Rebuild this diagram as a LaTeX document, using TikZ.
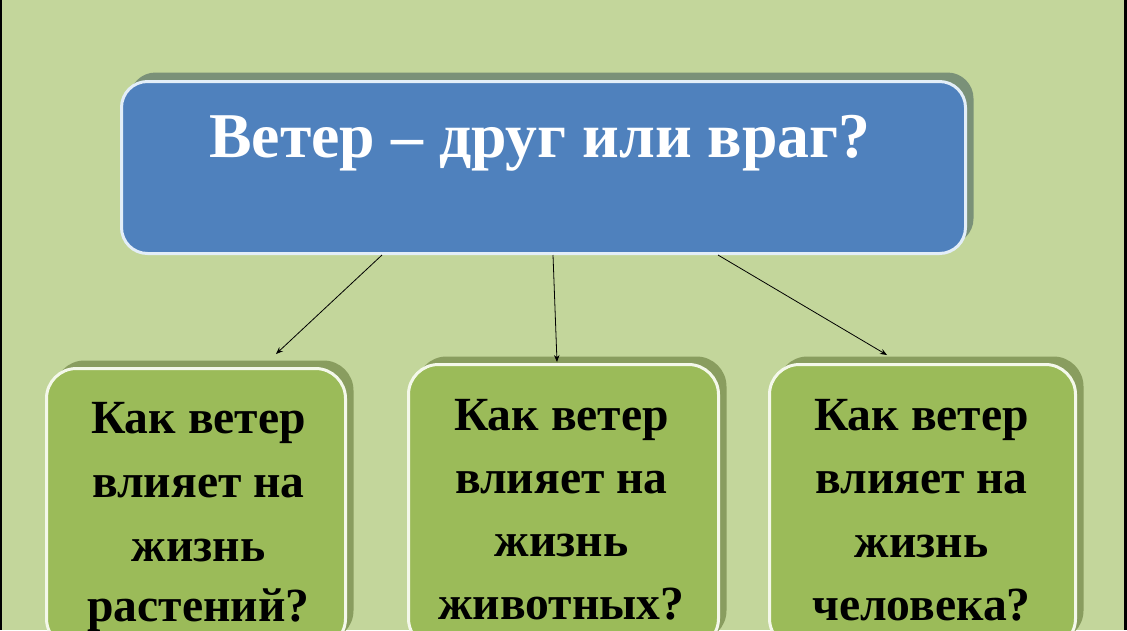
\documentclass[tikz,border=0pt]{standalone}
\usepackage{fontspec}
\setmainfont{Liberation Serif}
\usetikzlibrary{arrows.meta,shadows}
\definecolor{bg}{HTML}{C3D69B}
\definecolor{blu}{HTML}{4F81BD}
\definecolor{grn}{HTML}{9BBB59}
\definecolor{shb}{HTML}{7A9178}
\definecolor{shg}{HTML}{899D5F}
\definecolor{edgeb}{HTML}{E3EEF8}
\definecolor{edgeg}{HTML}{F4F8EA}
\tikzset{
  topbox/.style={draw=edgeb, line width=3pt, fill=blu, rounded corners=26pt,
    drop shadow={shadow xshift=8pt, shadow yshift=9pt, fill=shb, opacity=1}},
  qbox/.style={draw=edgeg, line width=3pt, fill=grn, rounded corners=30pt,
    drop shadow={shadow xshift=8pt, shadow yshift=8pt, fill=shg, opacity=1}},
  titletext/.style={anchor=base, inner sep=0pt, text=white, font=\fontsize{63.8}{76}\selectfont\bfseries},
  qtext/.style={anchor=base, inner sep=0pt, text=black, font=\fontsize{47.6}{57}\selectfont\bfseries},
  conn/.style={line width=0.8pt, black, -{Stealth[length=7pt,width=5.5pt]}}
}
\begin{document}
\begin{tikzpicture}[x=1pt,y=-1pt]
\useasboundingbox (0,0) rectangle (1127,630);
\clip (0,0) rectangle (1127,630);
\fill[bg] (0,0) rectangle (1127,630);
\fill[black] (0,0) rectangle (2,630);
\fill[black] (1124,0) rectangle (1127,630);

\node[topbox, minimum width=844pt, minimum height=172pt] (top) at (543.5,167.5) {};
\node[qbox, minimum width=299pt, minimum height=280pt] (b1) at (196,508.5) {};
\node[qbox, minimum width=310pt, minimum height=284pt] (b2) at (563.5,506.5) {};
\node[qbox, minimum width=306pt, minimum height=284pt] (b3) at (922.5,506.5) {};

\node[titletext] (title) at (540,157) {Ветер – друг или враг?};

\node[qtext] (l11) at (198.5,433) {Как ветер};
\node[qtext] (l12) at (198.5,497) {влияет на};
\node[qtext] (l13) at (198.5,561) {жизнь};
\node[qtext] (l14) at (198.5,621) {растений?};

\node[qtext] (l21) at (561.5,430) {Как ветер};
\node[qtext] (l22) at (561.5,493) {влияет на};
\node[qtext] (l23) at (561.5,556) {жизнь};
\node[qtext] (l24) at (561.5,619) {животных?};

\node[qtext] (l31) at (921.5,430) {Как ветер};
\node[qtext] (l32) at (921.5,493) {влияет на};
\node[qtext] (l33) at (921.5,557) {жизнь};
\node[qtext] (l34) at (921.5,620) {человека?};

\draw[conn] ([xshift=-161.5pt]top.south) -- ([xshift=80pt,yshift=13pt]b1.north);
\draw[conn] ([xshift=9.5pt]top.south) -- ([xshift=-6.5pt,yshift=1pt]b2.north);
\draw[conn] ([xshift=174.5pt]top.south) -- ([xshift=-35.5pt,yshift=8pt]b3.north);
\end{tikzpicture}
\end{document}
